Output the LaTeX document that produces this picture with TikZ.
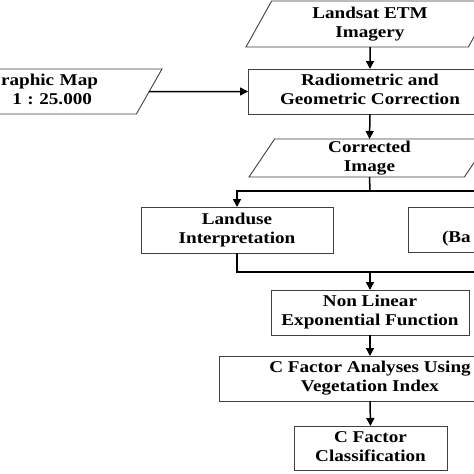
\documentclass[tikz,border=0pt]{standalone}
\usepackage{fontspec}
\setmainfont[FakeStretch=1.16]{Liberation Serif}
\usetikzlibrary{shapes.geometric,arrows.meta}
\tikzset{
  base/.style={draw=black!75, line width=0.9pt, inner sep=0pt, outer sep=0pt,
    align=center, font=\fontsize{16.5}{19}\selectfont\bfseries\frenchspacing},
  procbox/.style={base, rectangle},
  iobox/.style={base, trapezium, trapezium left angle=56, trapezium right angle=124,
    trapezium stretches body},
  conn/.style={line width=1.5pt, black},
  arr/.style={conn, -{Triangle[length=8pt,width=8pt]}}
}
\begin{document}
\begin{tikzpicture}[x=1pt,y=-1pt]
\useasboundingbox (0,0) rectangle (474,474);
\fill[white] (0,0) rectangle (474,474);
\clip (0,0) rectangle (474,474);

\node[iobox, minimum width=248pt, minimum height=46pt] (landsat) at (370,24)
  {\strut Landsat ETM\\Imagery\strut};
\node[procbox, minimum width=244pt, minimum height=45pt] (radio) at (370,91.5)
  {\strut Radiometric and\\Geometric Correction\strut};
\node[iobox, minimum width=262pt, minimum height=45pt, text width=134pt, align=right] (topo) at (31,91.5)
  {\strut raphic Map\\1 : 25.000\hspace*{6pt}\strut};
\node[iobox, minimum width=241pt, minimum height=38pt] (corr) at (369.5,158)
  {\strut Corrected\\Image\strut};
\node[procbox, minimum width=192pt, minimum height=46pt] (landuse) at (237,230)
  {\strut Landuse\\Interpretation\strut};
\node[procbox, minimum width=192pt, minimum height=45pt, text width=124pt, align=left] (band) at (504,229.5)
  {\strut\\(Ba\strut};
\node[procbox, minimum width=198pt, minimum height=45pt] (nonlin) at (370,312.5)
  {\strut Non Linear\\Exponential Function\strut};
\node[procbox, minimum width=302pt, minimum height=45pt] (cfa) at (370,378.5)
  {\strut C Factor Analyses Using\\Vegetation Index\strut};
\node[procbox, minimum width=153pt, minimum height=44pt] (cfc) at (370.5,448)
  {\strut C Factor\\Classification\strut};

\coordinate (split) at (370,191);
\coordinate (merge) at (370,272);

\draw[arr] (landsat.south) -- (radio.north);
\draw[arr] (topo.east) -- (radio.west);
\draw[arr] (radio.south) -- (corr.north);
\draw[conn] (corr.south) -- (split);
\draw[arr] (split) -| (landuse.north);
\draw[arr] (split) -| (band.north);
\draw[conn] (landuse.south) |- (merge);
\draw[conn] (band.south) |- (merge);
\draw[arr] (merge) -- (nonlin.north);
\draw[arr] (nonlin.south) -- (cfa.north);
\draw[arr] (cfa.south) -- (cfc.north);
\end{tikzpicture}
\end{document}
